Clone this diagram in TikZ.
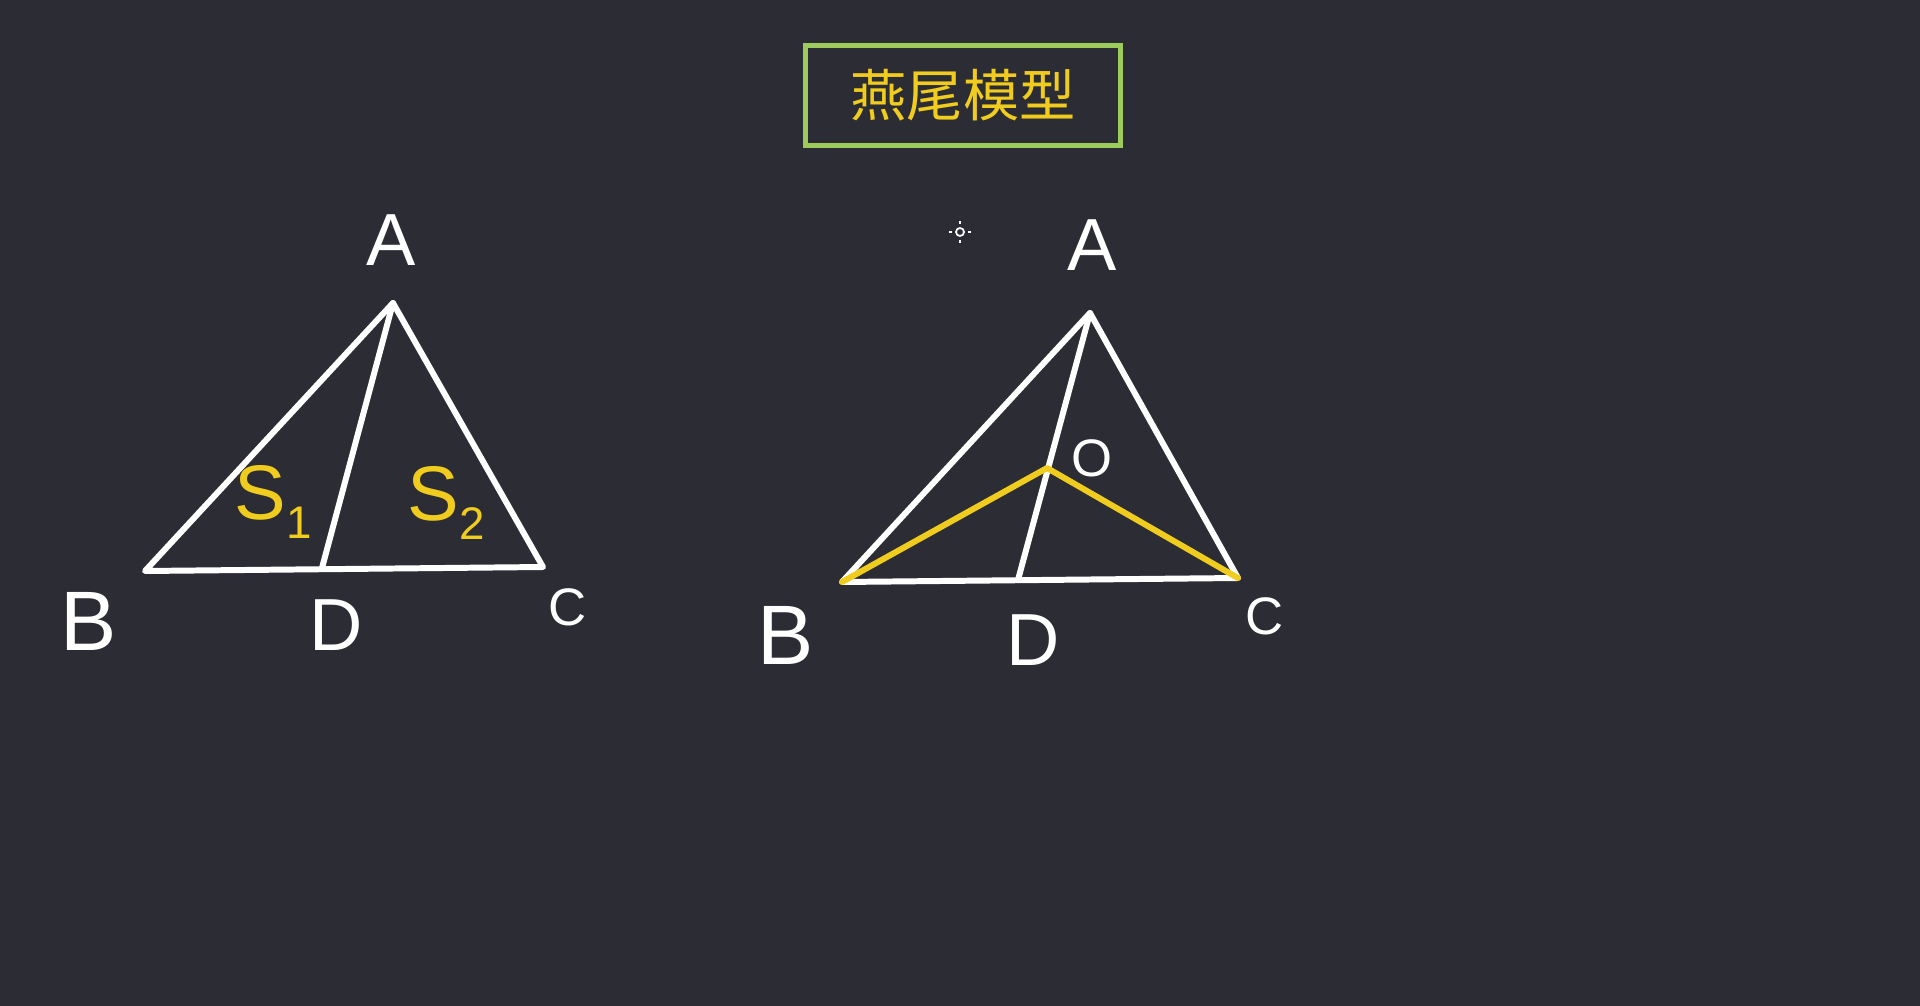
\documentclass[tikz,border=0pt]{standalone}
\usepackage{fontspec}
\usetikzlibrary{calc}
\setmainfont{Liberation Sans}
\newfontfamily\cjkfont{Noto Sans CJK SC}
\definecolor{board}{HTML}{2C2C34}
\definecolor{chalkyellow}{HTML}{F0CC1E}
\definecolor{boxgreen}{HTML}{9CCB5C}
\newcommand{\sub}[1]{\raisebox{-0.45ex}{\fontsize{13}{15}\selectfont #1}}
\begin{document}
\begin{tikzpicture}
            [x=0.01cm,y=-0.01cm,
             Edge/.style={white,line width=1.7pt,line cap=round,line join=round},
             Wing/.style={chalkyellow,line width=1.7pt,line cap=round,line join=round},
             Letter/.style={white,font=\fontsize{21}{25}\selectfont,inner sep=0pt},
             Small/.style={Letter,font=\fontsize{15}{18}\selectfont},
             Area/.style={chalkyellow,font=\fontsize{22}{26}\selectfont,inner sep=0pt},
             Title/.style={draw=boxgreen,line width=1.4pt,text=chalkyellow,
                           minimum width=3.15cm,minimum height=1cm,
                           font=\cjkfont\fontsize{16}{18}\selectfont}];
            \fill[board] (0,0) rectangle (1920,1006);
            \node[Title] (title) at (963,95.5){燕尾模型};
            % left triangle
            \coordinate (a1) at (393,303);
            \coordinate (b1) at (145,571);
            \coordinate (c1) at (543,567);
            \coordinate (d1) at (322,568);
            \draw [Edge](a1) -- (b1) -- (c1) -- cycle;
            \draw [Edge](a1) to (d1);
            \node[Letter] (la1) at (391,240){A};
            \node[Letter,font=\fontsize{24}{28}\selectfont] (lb1) at (89,621){B};
            \node[Letter] (ld1) at (336,625){D};
            \node[Small] (lc1) at (568,607){C};
            \node[Area] (s1) at (273,502){S\sub{1}};
            \node[Area] (s2) at (446,503){S\sub{2}};
            % right triangle
            \coordinate (a2) at (1090,313);
            \coordinate (b2) at (842,582);
            \coordinate (c2) at (1238,578);
            \coordinate (d2) at (1018,580);
            \coordinate (o2) at (1047,468);
            \draw [Edge](a2) -- (b2) -- (c2) -- cycle;
            \draw [Edge](a2) to (d2);
            \draw [Wing](b2) -- (o2) -- (c2);
            \node[Letter] (la2) at (1092,245){A};
            \node[Small] (lo2) at (1092,458){O};
            \node[Letter,font=\fontsize{24}{28}\selectfont] (lb2) at (786,635){B};
            \node[Letter] (ld2) at (1033,640){D};
            \node[Small] (lc2) at (1265,616){C};
            % pointer mark
            \coordinate (cur) at (960,232);
            \draw [white,line width=0.5pt](cur) circle (4);
            \foreach \d in {0,90,180,270}
              \draw [white,line width=0.4pt]($(cur)+(\d:8)$) -- ($(cur)+(\d:11)$);
        \end{tikzpicture}
\end{document}
